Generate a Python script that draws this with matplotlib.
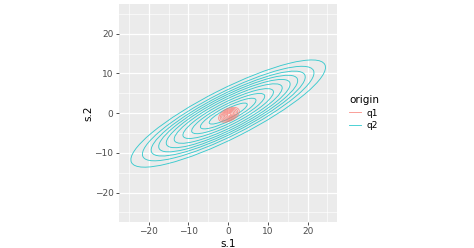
import numpy as np
import matplotlib
matplotlib.use("Agg")
import matplotlib.pyplot as plt
from matplotlib.patches import Ellipse
from matplotlib.lines import Line2D

# ---- data ----
groups = ["q1", "q2"]
colors = {"q1": "#F8766D", "q2": "#00BFC4"}
# contour shape of each group: centre, sd ratio (y/x), correlation
q1_center = (0.2, -0.4)
q1_sd_ratio = 0.72
q1_rho = 0.45
q1_half_widths = [2.6, 2.2, 1.85, 1.5, 1.15, 0.8, 0.45]

q2_center = (0.0, -0.1)
q2_sd_ratio = 0.551
q2_rho = 0.86
q2_half_widths = [24.5, 21.6, 19.4, 17.5, 15.6, 13.6, 11.4, 9.2, 7.0, 4.8]

xlim = (-27.5, 27.4)
ylim = (-27.3, 27.4)
major_ticks = [-20, -10, 0, 10, 20]
minor_ticks = [-25, -15, -5, 5, 15, 25]


def ellipse_geom(sd_ratio, rho, half_width):
    cov = np.array([[1.0, rho * sd_ratio], [rho * sd_ratio, sd_ratio ** 2]])
    vals, vecs = np.linalg.eigh(cov)
    k = half_width  # since sd_x = 1
    a = k * np.sqrt(vals[1])
    b = k * np.sqrt(vals[0])
    ang = np.degrees(np.arctan2(vecs[1, 1], vecs[0, 1]))
    return 2 * a, 2 * b, ang


fig = plt.figure(figsize=(4.74, 2.48), dpi=100)
ax = fig.add_axes([0.251, 0.105, 0.46, 0.879])
ax.set_facecolor("#EBEBEB")

for c, r, rho, hws, col in [
    (q2_center, q2_sd_ratio, q2_rho, q2_half_widths, colors["q2"]),
    (q1_center, q1_sd_ratio, q1_rho, q1_half_widths, colors["q1"]),
]:
    for hw in hws:
        w, h, ang = ellipse_geom(r, rho, hw)
        ax.add_patch(Ellipse(c, w, h, angle=ang, fill=False, edgecolor=col,
                             linewidth=0.65, alpha=0.75, zorder=3))

ax.set_xlim(*xlim)
ax.set_ylim(*ylim)
ax.set_aspect("equal", adjustable="box")
ax.set_xticks(major_ticks)
ax.set_yticks(major_ticks)
ax.set_xticks(minor_ticks, minor=True)
ax.set_yticks(minor_ticks, minor=True)
ax.grid(which="major", color="white", linewidth=0.9, zorder=0)
ax.grid(which="minor", color="white", linewidth=0.45, zorder=0)
ax.set_axisbelow(True)
for s in ax.spines.values():
    s.set_visible(False)
ax.tick_params(which="major", length=2.5, width=0.6, color="#333333",
               labelsize=6.5, labelcolor="#4D4D4D", pad=1.5)
ax.tick_params(which="minor", length=0)
ax.set_xlabel("s.1", fontsize=7.5, labelpad=2)
ax.set_ylabel("s.2", fontsize=7.5, labelpad=1)

handles = [Line2D([0], [0], color=colors[g], linewidth=0.65, alpha=0.75)
           for g in groups]
leg = fig.legend(handles, groups, title="origin", loc="upper left",
                 bbox_to_anchor=(0.72, 0.65), frameon=False, fontsize=6.5,
                 title_fontsize=7.5, handlelength=1.3, handletextpad=0.6,
                 labelspacing=0.4, alignment="left")
leg.get_title().set_ha("left")

fig.savefig("out.png", dpi=100)
